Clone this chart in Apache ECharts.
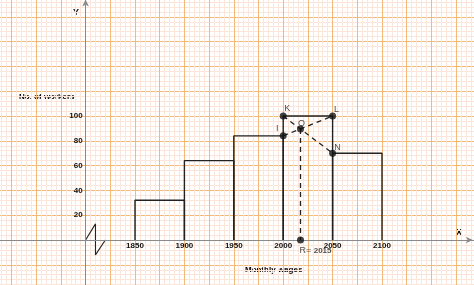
<!DOCTYPE html>
<html><head><meta charset="utf-8">
<script src="https://cdn.jsdelivr.net/npm/echarts@6/dist/echarts.min.js"></script>
<style>html,body{margin:0;padding:0;background:#fff}#c{width:474px;height:285px}</style>
</head><body><div id="c"></div>
<script>
// ---- data ----
const classBounds = [1850, 1900, 1950, 2000, 2050, 2100];
const frequencies = [32, 64, 84, 100, 70];
const xTickLabels = [1850, 1900, 1950, 2000, 2050, 2100];
const yTickLabels = [20, 40, 60, 80, 100];
const pointNames = ['K', 'L', 'I', 'N', 'Q', 'R'];
const pointX = [2000, 2050, 2000, 2050, 2017.5, 2017.5];
const pointY = [100, 100, 84, 70, 89.5, 0];
const dashedPairs = [['K', 'N'], ['I', 'L'], ['Q', 'R']];
const breakX = [1800, 1810, 1810, 1820];
const breakY = [0, 13, -12, 0];
const originX = 1800;

// ---- styles (not data) ----
const labelOffsets = { K: [4, 4], L: [4, 5], I: [-6, 3.5], N: [5, 5], Q: [1, 5], R: [15, 0] };
const FONT = 'Liberation Sans';

const pt = {};
pointNames.forEach((n, i) => pt[n] = [pointX[i], pointY[i]]);

const series = [];
for (let i = 0; i < frequencies.length; i++) {
  const x0 = classBounds[i], x1 = classBounds[i + 1], f = frequencies[i];
  series.push({
    type: 'line', data: [[x0, 0], [x0, f], [x1, f], [x1, 0]],
    symbol: 'none', silent: true, z: 3,
    lineStyle: { color: '#222', width: 1.4 }
  });
}
dashedPairs.forEach(p => series.push({
  type: 'line', data: [pt[p[0]], pt[p[1]]], symbol: 'none', z: 3,
  lineStyle: { color: '#222', width: 1.3, type: [5, 4] }
}));
series.push({
  type: 'line', data: breakX.map((x, i) => [x, breakY[i]]), symbol: 'none', z: 3,
  lineStyle: { color: '#222', width: 1.1 }
});
series.push({
  type: 'line', data: [], symbol: 'none',
  markLine: {
    silent: true, symbol: ['none', 'arrow'], symbolSize: [5, 7],
    label: { show: false },
    lineStyle: { color: '#8a8a8a', width: 1, type: 'solid' },
    data: [
      [{ coord: [1712, 0] }, { coord: [2192, 0] }],
      [{ coord: [originX, -37] }, { coord: [originX, 194] }]
    ]
  }
});
pointNames.forEach(n => series.push({
  type: 'scatter', data: [pt[n]], symbolSize: 7, z: 5,
  itemStyle: { color: '#111' },
  label: {
    show: true, position: n === 'R' ? 'bottom' : 'top', offset: labelOffsets[n],
    distance: 3,
    formatter: n === 'R' ? '{a|R=} {b|2015}' : n,
    color: '#222', fontSize: 9, fontFamily: FONT,
    rich: { a: { fontSize: 9, color: '#222', fontFamily: FONT }, b: { fontSize: 8, fontWeight: 'bold', color: '#222', fontFamily: FONT } }
  }
}));

const txt = (t, left, top, size) => ({ type: 'text', left, top, style: { text: t, fontSize: size, fontWeight: 'bold', fontFamily: FONT, fill: '#000' } });

const chart = echarts.init(document.getElementById('c'), null, { renderer: 'canvas' });
chart.setOption({
  animation: false,
  backgroundColor: '#fff',
  grid: { left: -13.2, right: -6.8, top: -8, bottom: -4.6, containLabel: false, outerBoundsMode: 'none' },
  xAxis: {
    type: 'value', min: 1700, max: 2200, interval: 25, position: 'bottom', offset: -49.6,
    axisLine: { show: true, onZero: false, lineStyle: { color: '#8a8a8a', width: 1 } },
    axisTick: { show: false },
    minorTick: { show: false, splitNumber: 5 },
    splitLine: { show: true, lineStyle: { color: '#f4b877', width: 1 } },
    minorSplitLine: { show: true, lineStyle: { color: '#fce6da', width: 1 } },
    axisLabel: {
      margin: 2, fontSize: 8, fontWeight: 'bold', color: '#111', fontFamily: FONT,
      formatter: v => xTickLabels.includes(v) ? String(v) : ''
    }
  },
  yAxis: {
    type: 'value', min: -40, max: 200, interval: 20, offset: -98.8,
    axisLine: { show: false },
    axisTick: { show: false },
    minorTick: { show: false, splitNumber: 5 },
    splitLine: { show: true, lineStyle: { color: '#f4b877', width: 1 } },
    minorSplitLine: { show: true, lineStyle: { color: '#fce6da', width: 1 } },
    axisLabel: {
      margin: 3, fontSize: 8, fontWeight: 'bold', color: '#111', fontFamily: FONT,
      formatter: v => yTickLabels.includes(v) ? String(v) : ''
    }
  },
  graphic: [
    txt('No. of workers', 19, 93, 8),
    txt('Monthly wages', 245, 266, 8),
    txt('Y', 73, 8, 9),
    txt('X', 456, 228, 9)
  ],
  series: series
});
</script></body></html>
